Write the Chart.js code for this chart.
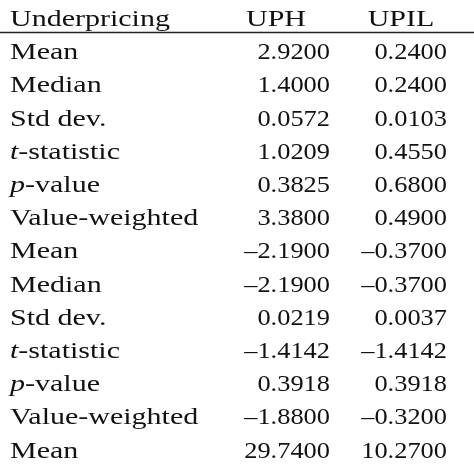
<!DOCTYPE html>
<html lang="en">
<head>
<meta charset="UTF-8">
<title>Underpricing table</title>
<script src="https://cdn.jsdelivr.net/npm/chart.js"></script>
<style>
  html, body { margin: 0; padding: 0; background: #fff; }
  #wrap { width: 474px; height: 474px; }
</style>
</head>
<body>
<div id="wrap"><canvas id="tableChart"></canvas></div>
<script>
const headers = ['Underpricing', 'UPH', 'UPIL'];
const rowLabels = ['Mean', 'Median', 'Std dev.', 't-statistic', 'p-value', 'Value-weighted',
                   'Mean', 'Median', 'Std dev.', 't-statistic', 'p-value', 'Value-weighted', 'Mean'];
const uph  = ['2.9200', '1.4000', '0.0572', '1.0209', '0.3825', '3.3800',
              '\u20132.1900', '\u20132.1900', '0.0219', '\u20131.4142', '0.3918', '\u20131.8800', '29.7400'];
const upil = ['0.2400', '0.2400', '0.0103', '0.4550', '0.6800', '0.4900',
              '\u20130.3700', '\u20130.3700', '0.0037', '\u20131.4142', '0.3918', '\u20130.3200', '10.2700'];

const font = '24px "Liberation Serif", "Times New Roman", serif';
const italicFont = 'italic 24px "Liberation Serif", "Times New Roman", serif';

// draw text stretched horizontally around its anchor x
function stretched(ctx, text, x, y, sx) {
  ctx.save();
  ctx.translate(x, y);
  ctx.scale(sx, 1);
  ctx.fillText(text, 0, 0);
  ctx.restore();
}

const tablePlugin = {
  id: 'tableText',
  afterDraw(chart) {
    const ctx = chart.ctx;
    const y = chart.scales.y;
    ctx.save();
    ctx.fillStyle = '#111';
    ctx.textBaseline = 'middle';
    ctx.font = font;

    // header
    const hy = y.getPixelForValue(0);
    ctx.textAlign = 'left';
    stretched(ctx, headers[0], 10, hy, 1.25);
    ctx.textAlign = 'center';
    stretched(ctx, headers[1], 276, hy, 1.25);
    stretched(ctx, headers[2], 401, hy, 1.25);

    ctx.strokeStyle = '#222';
    ctx.lineWidth = 1.5;
    ctx.beginPath();
    ctx.moveTo(0, hy + 13);
    ctx.lineTo(474, hy + 13);
    ctx.stroke();

    rowLabels.forEach((label, i) => {
      const py = y.getPixelForValue(i + 1);
      ctx.textAlign = 'left';
      let x = 10;
      const m = label.match(/^([tp])(-.*)$/);
      if (m) {
        ctx.font = italicFont;
        stretched(ctx, m[1], x, py, 1.25);
        x += ctx.measureText(m[1]).width * 1.25;
        ctx.font = font;
        stretched(ctx, m[2], x, py, 1.25);
      } else {
        stretched(ctx, label, x, py, 1.25);
      }
      ctx.textAlign = 'right';
      stretched(ctx, uph[i], 330, py, 1.1);
      stretched(ctx, upil[i], 447, py, 1.1);
    });
    ctx.restore();
  }
};

new Chart(document.getElementById('tableChart'), {
  type: 'bar',
  data: {
    labels: headers,
    datasets: [{ data: [], yAxisID: 'y' }]
  },
  options: {
    responsive: true,
    maintainAspectRatio: false,
    animation: false,
    layout: { padding: { top: 3, bottom: 6, left: 0, right: 0 } },
    plugins: { legend: { display: false }, tooltip: { enabled: false } },
    scales: {
      x: { display: false },
      y: {
        type: 'category',
        labels: ['header'].concat(rowLabels.map((l, i) => i + ':' + l)),
        offset: true,
        display: false
      }
    }
  },
  plugins: [tablePlugin]
});
</script>
</body>
</html>
